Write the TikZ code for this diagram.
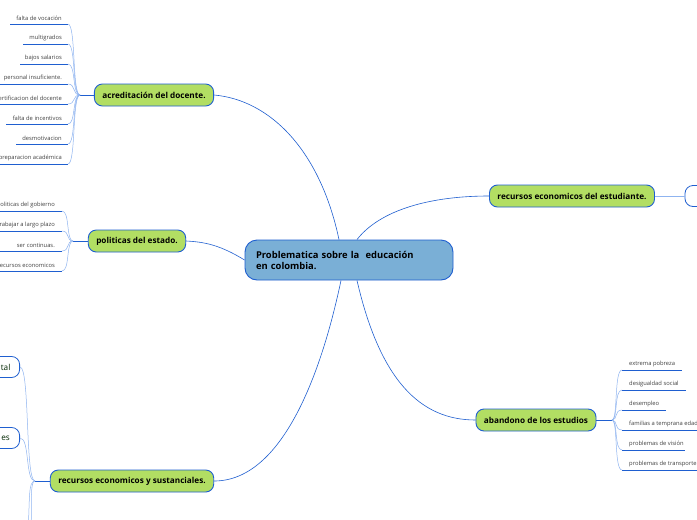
\documentclass[tikz,border=0pt]{standalone}
\usepackage{fontspec}
\setmainfont{Open Sans}
\definecolor{bl}{HTML}{1F5FD0}
\definecolor{lb}{HTML}{8FB4F0}
\definecolor{gr}{HTML}{B2DE63}
\definecolor{cb}{HTML}{7AAFD6}
\begin{document}
\begin{tikzpicture}[x=1pt,y=-1pt,
 main/.style={draw=bl,line width=0.9pt,fill=gr,rounded corners=8pt,minimum height=22pt,font=\bfseries\fontsize{8.2}{9}\selectfont,inner xsep=8pt},
 leaf/.style={font=\fontsize{5.8}{6}\selectfont,text=black!75,anchor=east,inner sep=0pt},
 ul/.style={bl,line width=1pt},
 br/.style={lb,line width=0.5pt},
 mc/.style={bl,line width=0.6pt},
 wbox/.style={draw=bl,line width=0.8pt,fill=white,rounded corners=8pt,minimum height=21pt,font=\fontsize{8.2}{9}\selectfont}]
\clip (0,0) rectangle (697,520);
\fill[white] (0,0) rectangle (697,520);
% center
\node[draw=bl,line width=0.9pt,fill=cb,rounded corners=12pt,minimum width=208pt,minimum height=40pt,align=left,text width=186pt,font=\bfseries\fontsize{9.4}{11}\selectfont] (c) at (349,260) {Problematica sobre la\ \ educación\\en colombia.};
\node[main] (a) at (154,95) {acreditación del docente.};
\node[main] (p) at (137,241) {politicas del estado.};
\node[main] (e) at (572,196) {recursos economicos del estudiante.};
\node[main] (ab) at (536,420) {abandono de los estudios};
\node[main] (s) at (132,481) {recursos economicos y sustanciales.};
% main connectors
\draw[mc] (c.north)+(-10,0) coordinate (c1) .. controls (320,150) and (270,100) .. (a.east);
\draw[mc] (c.west) .. controls (220,245) and (205,242) .. (p.east);
\draw[mc] (c.north)+(8,0) coordinate (c2) .. controls (380,210) and (430,196) .. (e.west);
\draw[mc] (c.south)+(8,0) coordinate (c3) .. controls (380,380) and (420,420) .. (ab.west);
\draw[mc] (c.south)+(-8,0) coordinate (c4) .. controls (320,380) and (280,481) .. (s.east);
% estudiante child
\node[wbox,minimum width=60pt] (e1) at (715,196) {};
\draw[lb,line width=1pt] (e.east) -- (e1.west);
% acreditacion leaves
\coordinate (aj) at (80,95);
\draw[mc] (a.west) -- (aj);
\foreach \t/\y/\x in {falta de vocación/24/10,multigrados/44/23,bajos salarios/64/20,personal insuficiente./84/0,certificacion del docente/104/0,falta de incentivos/124/6,desmotivacion/144/16,preparacion académica/164/0}{
 \node[leaf] at (62,\y-6) {\t};
 \draw[ul] (\x,\y) -- (68,\y);
 \draw[br] (68,\y) .. controls (76,\y) and (72,95) .. (aj);
}
% politicas leaves
\coordinate (pj) at (73,241);
\draw[mc] (p.west) -- (pj);
\foreach \t/\y in {politicas del gobierno/211,trabajar a largo plazo/231,ser continuas./251,recursos economicos/271}{
 \node[leaf] at (55,\y-6) {\t};
 \draw[ul] (0,\y) -- (62,\y);
 \draw[br] (62,\y) .. controls (70,\y) and (66,241) .. (pj);
}
% abandono leaves
\coordinate (bj) at (612,420);
\draw[mc] (ab.east) -- (bj);
\foreach \t/\y/\x in {extrema pobreza/370/682,desigualdad social/390/686,desempleo/410/666,familias a temprana edad/430/705,problemas de visión/450/685,problemas de transporte/470/705}{
 \node[leaf,anchor=west] at (629,\y-6) {\t};
 \draw[ul] (622,\y) -- (\x,\y);
 \draw[br] (622,\y) .. controls (614,\y) and (618,420) .. (bj);
}
% sustanciales children
\coordinate (sj) at (35,481);
\draw[mc] (s.west) -- (sj);
\node[wbox,minimum width=50pt,anchor=east,text=black!85!green] (s1) at (20,367) {\hspace{22pt}tal};
\node[wbox,minimum width=50pt,anchor=east,text=black!85!green] (s2) at (20,438) {\hspace{22pt}es};
\draw[br] (s1.east) .. controls (30,367) and (25,481) .. (sj);
\draw[br] (s2.east) .. controls (30,438) and (25,481) .. (sj);
\coordinate (d1) at (28,530);
\coordinate (d2) at (31,530);
\draw[br] (sj) .. controls (28,481) and (30,500) .. (d1);
\draw[br] (sj) .. controls (30,481) and (32,500) .. (d2);
\end{tikzpicture}
\end{document}
